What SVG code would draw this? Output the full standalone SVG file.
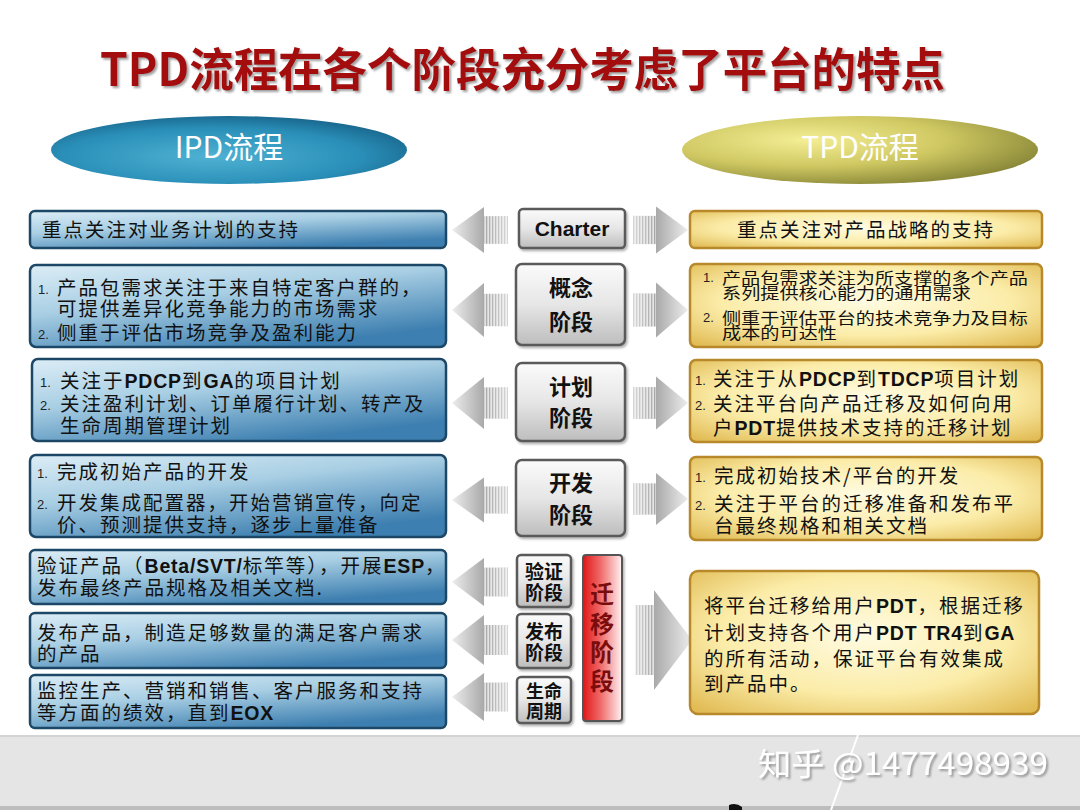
<svg xmlns="http://www.w3.org/2000/svg" xmlns:xlink="http://www.w3.org/1999/xlink" width="1080" height="810" viewBox="0 0 1080 810">
<style>
.cn{font-family:"Noto Sans CJK SC","Noto Sans",sans-serif;fill:#111;}
.t{font-size:19.5px;letter-spacing:2px;}
.num{font-family:"Liberation Sans",sans-serif;font-size:13px;fill:#222;letter-spacing:0;}
.b{font-family:"Liberation Sans","Noto Sans CJK SC",sans-serif;font-weight:bold;letter-spacing:0.8px;}
.mid{font-family:"Noto Sans CJK SC",sans-serif;font-weight:bold;fill:#111;text-anchor:middle;}
.blue{fill:url(#gBlue);stroke:#1c4766;stroke-width:2.5;}
.yel{fill:url(#gYel);stroke:#b8892a;stroke-width:2.5;}
.gray{fill:url(#gGray);stroke:#5a5a5a;stroke-width:2.5;}
</style>
<defs>
<linearGradient id="gBlue" x1="0" y1="0" x2="0.6" y2="1">
<stop offset="0" stop-color="#dcedf6"/><stop offset="0.45" stop-color="#a9cfe4"/><stop offset="1" stop-color="#3d7fb0"/>
</linearGradient>
<radialGradient id="gYel" cx="0.5" cy="0.45" r="0.75">
<stop offset="0" stop-color="#fffbe2"/><stop offset="0.55" stop-color="#fbeca8"/><stop offset="1" stop-color="#ddb448"/>
</radialGradient>
<linearGradient id="gGray" x1="0" y1="0" x2="0" y2="1">
<stop offset="0" stop-color="#fbfbfb"/><stop offset="0.5" stop-color="#e6e6e6"/><stop offset="1" stop-color="#bdbdbd"/>
</linearGradient>
<linearGradient id="gRed" x1="0" y1="0" x2="1" y2="0">
<stop offset="0" stop-color="#e01818"/><stop offset="0.45" stop-color="#f06a6a"/><stop offset="1" stop-color="#fff2f2"/>
</linearGradient>
<radialGradient id="gEllB" cx="0.45" cy="0.6" r="0.6">
<stop offset="0" stop-color="#4fb2d3"/><stop offset="0.7" stop-color="#2a8fb8"/><stop offset="1" stop-color="#1b6b92"/>
</radialGradient>
<radialGradient id="gEllY" cx="0.35" cy="0.35" r="0.7">
<stop offset="0" stop-color="#f4ee95"/><stop offset="0.55" stop-color="#cfc862"/><stop offset="1" stop-color="#8c8a3a"/>
</radialGradient>
<linearGradient id="gHeadL" x1="0" y1="0" x2="1" y2="0">
<stop offset="0" stop-color="#ededed"/><stop offset="1" stop-color="#a9a9a9"/>
</linearGradient>
<linearGradient id="gHeadR" x1="0" y1="0" x2="1" y2="0">
<stop offset="0" stop-color="#a9a9a9"/><stop offset="1" stop-color="#ededed"/>
</linearGradient>
<pattern id="stripes" patternUnits="userSpaceOnUse" width="3" height="10">
<rect width="3" height="10" fill="#e2e2e2"/><rect width="1.3" height="10" fill="#a6a6a6"/>
</pattern>
<linearGradient id="fadeR" x1="0" y1="0" x2="1" y2="0">
<stop offset="0" stop-color="#fff" stop-opacity="0"/><stop offset="1" stop-color="#fff" stop-opacity="0.55"/>
</linearGradient>
<linearGradient id="fadeL" x1="0" y1="0" x2="1" y2="0">
<stop offset="0" stop-color="#fff" stop-opacity="0.55"/><stop offset="1" stop-color="#fff" stop-opacity="0"/>
</linearGradient>
<g id="aL">
<polygon points="452,0 484,-25 484,25" fill="url(#gHeadL)"/>
<rect x="484" y="-15" width="24" height="30" fill="url(#stripes)"/>
<rect x="484" y="-15" width="24" height="30" fill="url(#fadeR)"/>
</g>
<g id="aR">
<rect x="633" y="-15" width="23" height="30" fill="url(#stripes)"/>
<rect x="633" y="-15" width="23" height="30" fill="url(#fadeL)"/>
<polygon points="656,-25 688,0 656,25" fill="url(#gHeadR)"/>
</g>
<filter id="sh" x="-10%" y="-10%" width="130%" height="140%">
<feDropShadow dx="1.5" dy="2" stdDeviation="1.2" flood-color="#000" flood-opacity="0.3"/>
</filter>
<filter id="tsh" x="-5%" y="-20%" width="110%" height="150%">
<feDropShadow dx="2" dy="2" stdDeviation="1" flood-color="#777" flood-opacity="0.7"/>
</filter>
</defs>

<rect width="1080" height="810" fill="#ffffff"/>

<!-- footer -->
<g id="footer">
<rect x="0" y="735" width="1080" height="75" fill="#e5e5e5"/>
<rect x="0" y="735" width="1080" height="2" fill="#d4d4d4"/>
<rect x="0" y="806" width="1080" height="4" fill="#bdbdbd"/>
<line x1="858" y1="735" x2="831" y2="810" stroke="#ffffff" stroke-width="2"/>
<path d="M729,810 L729,805 Q736,802 742,807 L742,810 Z" fill="#111"/>
<text x="758" y="775" font-family="'Noto Sans CJK SC',sans-serif" font-size="31" textLength="290" lengthAdjust="spacingAndGlyphs" fill="#ffffff" filter="url(#tsh)">知乎 @1477498939</text>
</g>

<!-- title -->
<g id="title">
<text x="100" y="86" class="cn" font-size="46" font-weight="bold" textLength="845" lengthAdjust="spacingAndGlyphs" style="fill:#a30c0c" filter="url(#tsh)">TPD流程在各个阶段充分考虑了平台的特点</text>
</g>

<g id="ipd-header">
<ellipse cx="229" cy="150" rx="178" ry="34" fill="url(#gEllB)"/>
<text x="229" y="158" text-anchor="middle" font-family="'Noto Sans CJK SC',sans-serif" font-size="30" fill="#ffffff">IPD流程</text>
</g>
<g id="tpd-header">
<ellipse cx="860" cy="150" rx="178" ry="34" fill="url(#gEllY)"/>
<text x="860" y="158" text-anchor="middle" font-family="'Noto Sans CJK SC',sans-serif" font-size="30" fill="#ffffff">TPD流程</text>
</g>

<!-- connectors -->
<g id="connectors">
<use href="#aL" transform="translate(0,230) scale(1,0.92)"/>
<use href="#aL" transform="translate(0,310) scale(1,1.08)"/>
<use href="#aL" transform="translate(0,403) scale(1,1.04)"/>
<use href="#aL" transform="translate(0,500) scale(1,0.9)"/>
<use href="#aL" transform="translate(0,582) scale(1,0.96)"/>
<use href="#aL" transform="translate(0,640) scale(1,1)"/>
<use href="#aL" transform="translate(0,697) scale(1,0.96)"/>
<use href="#aR" transform="translate(0,230) scale(1,0.94)"/>
<use href="#aR" transform="translate(0,310) scale(1,1.1)"/>
<use href="#aR" transform="translate(0,403) scale(1,1.06)"/>
<use href="#aR" transform="translate(0,499) scale(1,1.04)"/>
<g id="arrow-migrate">
<rect x="635" y="605" width="19" height="70" fill="url(#stripes)"/>
<rect x="635" y="605" width="19" height="70" fill="url(#fadeL)"/>
<polygon points="654,590 692,640 654,690" fill="url(#gHeadR)"/>
</g>
</g>

<!-- left IPD boxes -->
<g id="ipd-1">
<rect x="30" y="211" width="416" height="37" rx="5" class="blue"/>
<text x="42" y="237" class="cn t">重点关注对业务计划的支持</text>
</g>
<g id="ipd-2">
<rect x="30" y="265" width="416" height="82" rx="6" class="blue"/>
<text class="cn t"><tspan class="num" x="38" y="294">1.</tspan><tspan x="57" y="295">产品包需求关注于来自特定客户群的，</tspan><tspan x="57" y="316">可提供差异化竞争能力的市场需求</tspan><tspan class="num" x="38" y="339">2.</tspan><tspan x="57" y="340">侧重于评估市场竞争及盈利能力</tspan></text>
</g>
<g id="ipd-3">
<rect x="32" y="359" width="414" height="82" rx="6" class="blue"/>
<text class="cn t"><tspan class="num" x="40" y="387">1.</tspan><tspan x="60" y="388">关注于</tspan><tspan class="b">PDCP</tspan><tspan>到</tspan><tspan class="b">GA</tspan><tspan>的项目计划</tspan><tspan class="num" x="40" y="410">2.</tspan><tspan x="60" y="411">关注盈利计划、订单履行计划、转产及</tspan><tspan x="60" y="433">生命周期管理计划</tspan></text>
</g>
<g id="ipd-4">
<rect x="30" y="455" width="416" height="82" rx="6" class="blue"/>
<text class="cn t"><tspan class="num" x="37" y="478">1.</tspan><tspan x="57" y="479">完成初始产品的开发</tspan><tspan class="num" x="37" y="509">2.</tspan><tspan x="57" y="510">开发集成配置器，开始营销宣传，向定</tspan><tspan x="57" y="532">价、预测提供支持，逐步上量准备</tspan></text>
</g>
<g id="ipd-5">
<rect x="30" y="550" width="416" height="54" rx="5" class="blue"/>
<text class="cn t"><tspan x="37" y="573">验证产品（</tspan><tspan class="b">Beta/SVT/</tspan><tspan>标竿等），开展</tspan><tspan class="b">ESP</tspan><tspan>，</tspan><tspan x="37" y="595">发布最终产品规格及相关文档.</tspan></text>
</g>
<g id="ipd-6">
<rect x="30" y="613" width="416" height="55" rx="5" class="blue"/>
<text class="cn t"><tspan x="37" y="640">发布产品，制造足够数量的满足客户需求</tspan><tspan x="37" y="661">的产品</tspan></text>
</g>
<g id="ipd-7">
<rect x="30" y="675" width="416" height="53" rx="5" class="blue"/>
<text class="cn t"><tspan x="37" y="698">监控生产、营销和销售、客户服务和支持</tspan><tspan x="37" y="720">等方面的绩效，直到</tspan><tspan class="b">EOX</tspan></text>
</g>

<!-- middle stage boxes -->
<g id="stage-charter">
<rect x="519" y="209" width="106" height="39" rx="4" class="gray" filter="url(#sh)"/>
<text x="572" y="236" font-family="'Liberation Sans',sans-serif" font-weight="bold" font-size="21" fill="#111" text-anchor="middle">Charter</text>
</g>
<g id="stage-concept">
<rect x="516" y="264" width="109" height="81" rx="6" class="gray" filter="url(#sh)"/>
<text class="mid" font-size="22"><tspan x="571" y="296">概念</tspan><tspan x="571" y="330">阶段</tspan></text>
</g>
<g id="stage-plan">
<rect x="516" y="363" width="109" height="78" rx="6" class="gray" filter="url(#sh)"/>
<text class="mid" font-size="22"><tspan x="571" y="395">计划</tspan><tspan x="571" y="426">阶段</tspan></text>
</g>
<g id="stage-dev">
<rect x="516" y="460" width="109" height="76" rx="6" class="gray" filter="url(#sh)"/>
<text class="mid" font-size="22"><tspan x="571" y="491">开发</tspan><tspan x="571" y="523">阶段</tspan></text>
</g>
<g id="stage-verify">
<rect x="517" y="555" width="54" height="52" rx="4" class="gray" filter="url(#sh)"/>
<text class="mid" font-size="19"><tspan x="544" y="579">验证</tspan><tspan x="544" y="600">阶段</tspan></text>
</g>
<g id="stage-release">
<rect x="517" y="614" width="54" height="54" rx="4" class="gray" filter="url(#sh)"/>
<text class="mid" font-size="19"><tspan x="544" y="639">发布</tspan><tspan x="544" y="660">阶段</tspan></text>
</g>
<g id="stage-life">
<rect x="517" y="677" width="54" height="46" rx="4" class="gray" filter="url(#sh)"/>
<text class="mid" font-size="18"><tspan x="544" y="698">生命</tspan><tspan x="544" y="718">周期</tspan></text>
</g>
<g id="stage-migrate">
<rect x="583" y="555" width="39" height="166" rx="3" fill="url(#gRed)" stroke="#555" stroke-width="2" filter="url(#sh)"/>
<text class="mid" font-size="24" style="fill:#7a0c0c"><tspan x="602" y="603">迁</tspan><tspan x="602" y="633">移</tspan><tspan x="602" y="661">阶</tspan><tspan x="602" y="690">段</tspan></text>
</g>

<!-- right TPD boxes -->
<g id="tpd-1">
<rect x="690" y="211" width="352" height="37" rx="5" class="yel"/>
<text x="866" y="237" class="cn t" text-anchor="middle">重点关注对产品战略的支持</text>
</g>
<g id="tpd-2">
<rect x="690" y="264" width="352" height="83" rx="6" class="yel"/>
<text class="cn" font-size="15.4"><tspan class="num" font-size="11" x="703" y="282">1.</tspan><tspan x="722" y="284" textLength="306" lengthAdjust="spacingAndGlyphs">产品包需求关注为所支撑的多个产品</tspan><tspan x="722" y="299" textLength="249" lengthAdjust="spacingAndGlyphs">系列提供核心能力的通用需求</tspan><tspan class="num" font-size="11" x="703" y="322">2.</tspan><tspan x="722" y="324" textLength="306" lengthAdjust="spacingAndGlyphs">侧重于评估平台的技术竞争力及目标</tspan><tspan x="722" y="339" textLength="115" lengthAdjust="spacingAndGlyphs">成本的可达性</tspan></text>
</g>
<g id="tpd-3">
<rect x="690" y="360" width="352" height="82" rx="6" class="yel"/>
<text class="cn t"><tspan class="num" x="695" y="385">1.</tspan><tspan x="713" y="386">关注于从</tspan><tspan class="b">PDCP</tspan><tspan>到</tspan><tspan class="b">TDCP</tspan><tspan>项目计划</tspan><tspan class="num" x="695" y="410">2.</tspan><tspan x="713" y="411">关注平台向产品迁移及如何向用</tspan><tspan x="713" y="435">户</tspan><tspan class="b">PDT</tspan><tspan>提供技术支持的迁移计划</tspan></text>
</g>
<g id="tpd-4">
<rect x="690" y="457" width="352" height="83" rx="6" class="yel"/>
<text class="cn t"><tspan class="num" x="695" y="482">1.</tspan><tspan x="714" y="483">完成初始技术/平台的开发</tspan><tspan class="num" x="695" y="510">2.</tspan><tspan x="714" y="511">关注于平台的迁移准备和发布平</tspan><tspan x="714" y="533">台最终规格和相关文档</tspan></text>
</g>
<g id="tpd-5">
<rect x="690" y="571" width="349" height="143" rx="8" class="yel"/>
<text class="cn t"><tspan x="704" y="613">将平台迁移给用户</tspan><tspan class="b">PDT</tspan><tspan>，根据迁移</tspan><tspan x="704" y="640">计划支持各个用户</tspan><tspan class="b">PDT TR4</tspan><tspan>到</tspan><tspan class="b">GA</tspan><tspan x="704" y="666">的所有活动，保证平台有效集成</tspan><tspan x="704" y="691">到产品中。</tspan></text>
</g>
</svg>
